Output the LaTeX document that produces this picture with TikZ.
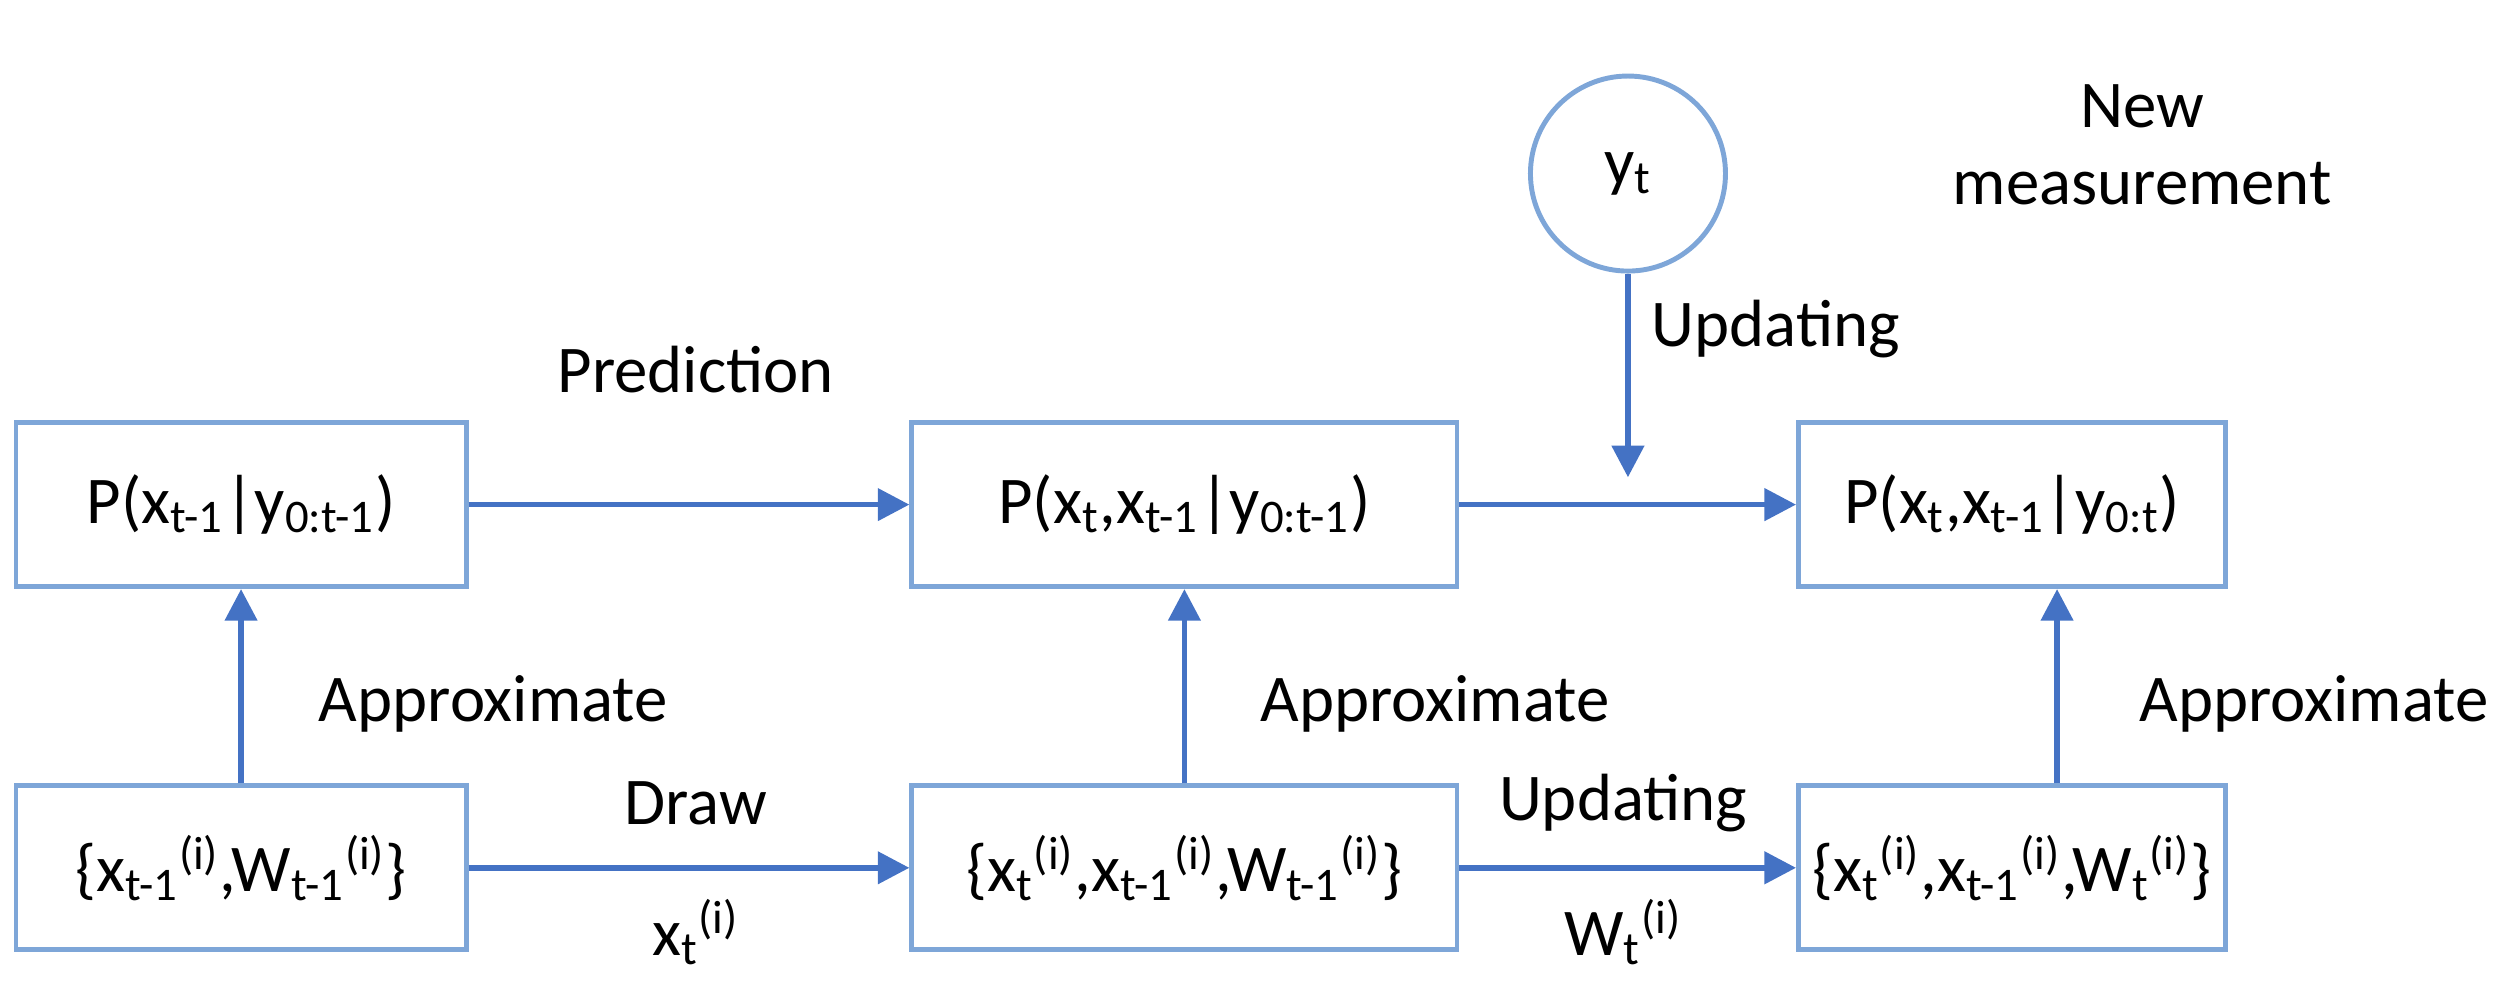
\documentclass[tikz,border=0pt]{standalone}
\usepackage{fontspec}
\setmainfont{Carlito}
\usetikzlibrary{arrows.meta}
\definecolor{boxline}{HTML}{7EA6D8}
\definecolor{arrline}{HTML}{4472C4}
\newcommand{\sub}[1]{\textsubscript{#1}}
\newcommand{\sps}[1]{\textsuperscript{#1}}
\begin{document}
\begin{tikzpicture}[x=0.01607cm, y=-0.01607cm, font=\fontsize{19}{22}\selectfont,
    box/.style={draw=boxline, line width=1.4pt, minimum height=1.64cm, inner sep=0pt},
    arr/.style={draw=arrline, line width=1.6pt, -{Triangle[length=9pt, width=9pt]}}]
    \useasboundingbox (0, 0) rectangle (1560, 616);
    \node[box, minimum width=4.5cm] (pa) at (150, 314) {P(x\sub{t-1}|y\sub{0:t-1})};
    \node[box, minimum width=5.45cm] (pb) at (737, 314) {P(x\sub{t},x\sub{t-1}|y\sub{0:t-1})};
    \node[box, minimum width=4.27cm] (pc) at (1252, 314) {P(x\sub{t},x\sub{t-1}|y\sub{0:t})};
    \node[box, minimum width=4.5cm] (sa) at (150, 540) {\{x\sub{t-1}\sps{(i)},W\sub{t-1}\sps{(i)}\}};
    \node[box, minimum width=5.45cm] (sb) at (737, 540) {\{x\sub{t}\sps{(i)},x\sub{t-1}\sps{(i)},W\sub{t-1}\sps{(i)}\}};
    \node[box, minimum width=4.27cm] (sc) at (1252, 540) {\{x\sub{t}\sps{(i)},x\sub{t-1}\sps{(i)},W\sub{t}\sps{(i)}\}};
    \node[draw=boxline, line width=1.4pt, circle, minimum size=1.95cm, inner sep=0pt] (y) at (1013, 108) {y\sub{t}};
    \coordinate (upd) at (1013, 297);
    % arrows
    \draw[arr] (pa) -- (pb);
    \draw[arr] (pb) -- (pc);
    \draw[arr] (y) -- (upd);
    \draw[arr] (sa) -- (sb);
    \draw[arr] (sb) -- (sc);
    \draw[arr] (sa) -- (pa);
    \draw[arr] (sb) -- (pb);
    \draw[arr] ([xshift=0.45cm]sc.north) -- ([xshift=0.45cm]pc.south);
    % labels
    \node at (433, 230) {Prediction};
    \node at (1105, 205) {Updating};
    \node[align=center] at (1333, 90) {New\\measurement};
    \node at (307, 438) {Approximate};
    \node at (893, 438) {Approximate};
    \node at (1440, 438) {Approximate};
    \node at (433, 500) {Draw};
    \node at (433, 580) {x\sub{t}\sps{(i)}};
    \node at (1010, 500) {Updating};
    \node at (1010, 580) {W\sub{t}\sps{(i)}};
\end{tikzpicture}
\end{document}
